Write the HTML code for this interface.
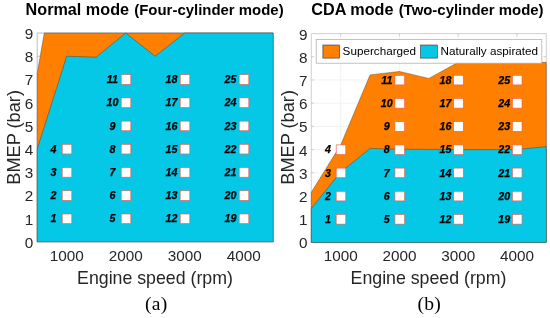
<!DOCTYPE html>
<html><head><meta charset="utf-8"><title>BMEP maps</title>
<style>
html,body{margin:0;padding:0;background:#fff;}
body{width:550px;height:318px;overflow:hidden;position:relative;font-family:"Liberation Sans",sans-serif;}
svg{position:absolute;left:0;top:0;display:block;}
text{font-family:"Liberation Sans",sans-serif;fill:#1a1a1a;}
.ttl{font-weight:bold;font-size:15.45px;fill:#000;}
.t1{font-size:16.2px;}
.t2{font-size:14.95px;}
.tick{font-size:15.3px;fill:#262626;}
.lab{font-size:17.75px;fill:#262626;}
.ylab{font-size:18.2px;fill:#262626;}
.num{font-weight:bold;font-style:italic;font-size:10.7px;fill:#000;stroke:#000;stroke-width:0.25px;}
.leg{font-size:11.7px;fill:#000;}
.cap{font-family:"Liberation Serif",serif;font-size:19.6px;letter-spacing:0.2px;fill:#000;}
</style></head><body>
<svg width="550" height="318" viewBox="0 0 550 318">
<rect width="550" height="318" fill="#fff"/>

<g>
<path d="M37.20 241.90V33.00H273.20M37.20 218.69h2.6M37.20 195.48h2.6M37.20 172.27h2.6M37.20 149.06h2.6M37.20 125.84h2.6M37.20 102.63h2.6M37.20 79.42h2.6M37.20 56.21h2.6" fill="none" stroke="#a0a0a0" stroke-width="0.7"/>
<polygon points="37.20,241.90 37.20,73.39 44.28,33.00 273.20,33.00 273.20,241.90" fill="#ff7f00" stroke="#222" stroke-width="0.5" stroke-opacity="0.7"/>
<polygon points="37.20,241.90 37.20,149.06 66.70,56.21 96.20,57.14 125.70,33.00 155.20,56.21 184.70,33.00 273.20,33.00 273.20,241.90" fill="#05c7e6" stroke="#222" stroke-width="0.5" stroke-opacity="0.7"/>
<rect x="62.20" y="213.99" width="9.6" height="9.6" fill="#fff" stroke="#ee5a4a" stroke-width="0.6"/>
<text class="num" text-anchor="middle" x="53.40" y="222.39">1</text>
<rect x="62.20" y="190.78" width="9.6" height="9.6" fill="#fff" stroke="#ee5a4a" stroke-width="0.6"/>
<text class="num" text-anchor="middle" x="53.40" y="199.18">2</text>
<rect x="62.20" y="167.57" width="9.6" height="9.6" fill="#fff" stroke="#ee5a4a" stroke-width="0.6"/>
<text class="num" text-anchor="middle" x="53.40" y="175.97">3</text>
<rect x="62.20" y="144.36" width="9.6" height="9.6" fill="#fff" stroke="#ee5a4a" stroke-width="0.6"/>
<text class="num" text-anchor="middle" x="53.40" y="152.76">4</text>
<rect x="121.20" y="213.99" width="9.6" height="9.6" fill="#fff" stroke="#ee5a4a" stroke-width="0.6"/>
<text class="num" text-anchor="middle" x="112.40" y="222.39">5</text>
<rect x="121.20" y="190.78" width="9.6" height="9.6" fill="#fff" stroke="#ee5a4a" stroke-width="0.6"/>
<text class="num" text-anchor="middle" x="112.40" y="199.18">6</text>
<rect x="121.20" y="167.57" width="9.6" height="9.6" fill="#fff" stroke="#ee5a4a" stroke-width="0.6"/>
<text class="num" text-anchor="middle" x="112.40" y="175.97">7</text>
<rect x="121.20" y="144.36" width="9.6" height="9.6" fill="#fff" stroke="#ee5a4a" stroke-width="0.6"/>
<text class="num" text-anchor="middle" x="112.40" y="152.76">8</text>
<rect x="121.20" y="121.14" width="9.6" height="9.6" fill="#fff" stroke="#ee5a4a" stroke-width="0.6"/>
<text class="num" text-anchor="middle" x="112.40" y="129.54">9</text>
<rect x="121.20" y="97.93" width="9.6" height="9.6" fill="#fff" stroke="#ee5a4a" stroke-width="0.6"/>
<text class="num" text-anchor="middle" x="112.40" y="106.33">10</text>
<rect x="121.20" y="74.72" width="9.6" height="9.6" fill="#fff" stroke="#ee5a4a" stroke-width="0.6"/>
<text class="num" text-anchor="middle" x="112.40" y="83.12">11</text>
<rect x="180.20" y="213.99" width="9.6" height="9.6" fill="#fff" stroke="#ee5a4a" stroke-width="0.6"/>
<text class="num" text-anchor="middle" x="171.40" y="222.39">12</text>
<rect x="180.20" y="190.78" width="9.6" height="9.6" fill="#fff" stroke="#ee5a4a" stroke-width="0.6"/>
<text class="num" text-anchor="middle" x="171.40" y="199.18">13</text>
<rect x="180.20" y="167.57" width="9.6" height="9.6" fill="#fff" stroke="#ee5a4a" stroke-width="0.6"/>
<text class="num" text-anchor="middle" x="171.40" y="175.97">14</text>
<rect x="180.20" y="144.36" width="9.6" height="9.6" fill="#fff" stroke="#ee5a4a" stroke-width="0.6"/>
<text class="num" text-anchor="middle" x="171.40" y="152.76">15</text>
<rect x="180.20" y="121.14" width="9.6" height="9.6" fill="#fff" stroke="#ee5a4a" stroke-width="0.6"/>
<text class="num" text-anchor="middle" x="171.40" y="129.54">16</text>
<rect x="180.20" y="97.93" width="9.6" height="9.6" fill="#fff" stroke="#ee5a4a" stroke-width="0.6"/>
<text class="num" text-anchor="middle" x="171.40" y="106.33">17</text>
<rect x="180.20" y="74.72" width="9.6" height="9.6" fill="#fff" stroke="#ee5a4a" stroke-width="0.6"/>
<text class="num" text-anchor="middle" x="171.40" y="83.12">18</text>
<rect x="239.20" y="213.99" width="9.6" height="9.6" fill="#fff" stroke="#ee5a4a" stroke-width="0.6"/>
<text class="num" text-anchor="middle" x="230.40" y="222.39">19</text>
<rect x="239.20" y="190.78" width="9.6" height="9.6" fill="#fff" stroke="#ee5a4a" stroke-width="0.6"/>
<text class="num" text-anchor="middle" x="230.40" y="199.18">20</text>
<rect x="239.20" y="167.57" width="9.6" height="9.6" fill="#fff" stroke="#ee5a4a" stroke-width="0.6"/>
<text class="num" text-anchor="middle" x="230.40" y="175.97">21</text>
<rect x="239.20" y="144.36" width="9.6" height="9.6" fill="#fff" stroke="#ee5a4a" stroke-width="0.6"/>
<text class="num" text-anchor="middle" x="230.40" y="152.76">22</text>
<rect x="239.20" y="121.14" width="9.6" height="9.6" fill="#fff" stroke="#ee5a4a" stroke-width="0.6"/>
<text class="num" text-anchor="middle" x="230.40" y="129.54">23</text>
<rect x="239.20" y="97.93" width="9.6" height="9.6" fill="#fff" stroke="#ee5a4a" stroke-width="0.6"/>
<text class="num" text-anchor="middle" x="230.40" y="106.33">24</text>
<rect x="239.20" y="74.72" width="9.6" height="9.6" fill="#fff" stroke="#ee5a4a" stroke-width="0.6"/>
<text class="num" text-anchor="middle" x="230.40" y="83.12">25</text>
<text class="tick" text-anchor="end" x="33.3" y="247.80">0</text>
<text class="tick" text-anchor="end" x="33.3" y="224.59">1</text>
<text class="tick" text-anchor="end" x="33.3" y="201.38">2</text>
<text class="tick" text-anchor="end" x="33.3" y="178.17">3</text>
<text class="tick" text-anchor="end" x="33.3" y="154.96">4</text>
<text class="tick" text-anchor="end" x="33.3" y="131.74">5</text>
<text class="tick" text-anchor="end" x="33.3" y="108.53">6</text>
<text class="tick" text-anchor="end" x="33.3" y="85.32">7</text>
<text class="tick" text-anchor="end" x="33.3" y="62.11">8</text>
<text class="tick" text-anchor="end" x="33.3" y="38.90">9</text>
<text class="tick" text-anchor="middle" x="66.70" y="260.9">1000</text>
<text class="tick" text-anchor="middle" x="125.70" y="260.9">2000</text>
<text class="tick" text-anchor="middle" x="184.70" y="260.9">3000</text>
<text class="tick" text-anchor="middle" x="243.70" y="260.9">4000</text>
<text class="ttl" x="25.6" y="15.2"><tspan class="t1">Normal mode</tspan><tspan class="t2" dx="5.2">(Four-cylinder mode)</tspan></text>
<text class="lab" text-anchor="middle" x="155" y="283.5">Engine speed (rpm)</text>
<text class="ylab" text-anchor="middle" transform="translate(19.5 137.4) rotate(-90)">BMEP (bar)</text>
<text class="cap" text-anchor="middle" x="156.3" y="310">(a)</text>
</g>
<g>
<path d="M340.68 242.40V33.60M399.42 242.40V33.60M458.17 242.40V33.60M516.92 242.40V33.60M311.30 219.20H546.30M311.30 196.00H546.30M311.30 172.80H546.30M311.30 149.60H546.30M311.30 126.40H546.30M311.30 103.20H546.30M311.30 80.00H546.30M311.30 56.80H546.30" fill="none" stroke="#e9e9e9" stroke-width="0.6"/>
<path d="M311.30 242.40V33.60H546.30V242.40M340.68 33.60v2.6M399.42 33.60v2.6M458.17 33.60v2.6M516.92 33.60v2.6M546.30 219.20h-2.6M311.30 219.20h2.6M546.30 196.00h-2.6M311.30 196.00h2.6M546.30 172.80h-2.6M311.30 172.80h2.6M546.30 149.60h-2.6M311.30 149.60h2.6M546.30 126.40h-2.6M311.30 126.40h2.6M546.30 103.20h-2.6M311.30 103.20h2.6M546.30 80.00h-2.6M311.30 80.00h2.6M546.30 56.80h-2.6M311.30 56.80h2.6" fill="none" stroke="#bdbdbd" stroke-width="0.7"/>
<polygon points="311.30,242.40 311.30,192.29 340.68,144.96 370.05,74.90 399.42,71.42 428.80,78.38 458.17,62.37 546.30,62.37 546.30,242.40" fill="#ff7f00" stroke="#222" stroke-width="0.5" stroke-opacity="0.7"/>
<polygon points="311.30,242.40 311.30,208.30 340.68,172.10 370.05,148.44 399.42,149.14 458.17,149.60 516.92,149.60 546.30,146.58 546.30,242.40" fill="#05c7e6" stroke="#222" stroke-width="0.5" stroke-opacity="0.7"/>
<rect x="336.18" y="214.50" width="9.6" height="9.6" fill="#fff" stroke="#ee5a4a" stroke-width="0.6"/>
<text class="num" text-anchor="middle" x="328.08" y="222.90">1</text>
<rect x="336.18" y="191.30" width="9.6" height="9.6" fill="#fff" stroke="#ee5a4a" stroke-width="0.6"/>
<text class="num" text-anchor="middle" x="328.08" y="199.70">2</text>
<rect x="336.18" y="168.10" width="9.6" height="9.6" fill="#fff" stroke="#ee5a4a" stroke-width="0.6"/>
<text class="num" text-anchor="middle" x="328.08" y="176.50">3</text>
<rect x="336.18" y="144.90" width="9.6" height="9.6" fill="#fff" stroke="#ee5a4a" stroke-width="0.6"/>
<text class="num" text-anchor="middle" x="328.08" y="153.30">4</text>
<rect x="394.92" y="214.50" width="9.6" height="9.6" fill="#fff" stroke="#ee5a4a" stroke-width="0.6"/>
<text class="num" text-anchor="middle" x="386.82" y="222.90">5</text>
<rect x="394.92" y="191.30" width="9.6" height="9.6" fill="#fff" stroke="#ee5a4a" stroke-width="0.6"/>
<text class="num" text-anchor="middle" x="386.82" y="199.70">6</text>
<rect x="394.92" y="168.10" width="9.6" height="9.6" fill="#fff" stroke="#ee5a4a" stroke-width="0.6"/>
<text class="num" text-anchor="middle" x="386.82" y="176.50">7</text>
<rect x="394.92" y="144.90" width="9.6" height="9.6" fill="#fff" stroke="#ee5a4a" stroke-width="0.6"/>
<text class="num" text-anchor="middle" x="386.82" y="153.30">8</text>
<rect x="394.92" y="121.70" width="9.6" height="9.6" fill="#fff" stroke="#ee5a4a" stroke-width="0.6"/>
<text class="num" text-anchor="middle" x="386.82" y="130.10">9</text>
<rect x="394.92" y="98.50" width="9.6" height="9.6" fill="#fff" stroke="#ee5a4a" stroke-width="0.6"/>
<text class="num" text-anchor="middle" x="386.82" y="106.90">10</text>
<rect x="394.92" y="75.30" width="9.6" height="9.6" fill="#fff" stroke="#ee5a4a" stroke-width="0.6"/>
<text class="num" text-anchor="middle" x="386.82" y="83.70">11</text>
<rect x="453.67" y="214.50" width="9.6" height="9.6" fill="#fff" stroke="#ee5a4a" stroke-width="0.6"/>
<text class="num" text-anchor="middle" x="445.57" y="222.90">12</text>
<rect x="453.67" y="191.30" width="9.6" height="9.6" fill="#fff" stroke="#ee5a4a" stroke-width="0.6"/>
<text class="num" text-anchor="middle" x="445.57" y="199.70">13</text>
<rect x="453.67" y="168.10" width="9.6" height="9.6" fill="#fff" stroke="#ee5a4a" stroke-width="0.6"/>
<text class="num" text-anchor="middle" x="445.57" y="176.50">14</text>
<rect x="453.67" y="144.90" width="9.6" height="9.6" fill="#fff" stroke="#ee5a4a" stroke-width="0.6"/>
<text class="num" text-anchor="middle" x="445.57" y="153.30">15</text>
<rect x="453.67" y="121.70" width="9.6" height="9.6" fill="#fff" stroke="#ee5a4a" stroke-width="0.6"/>
<text class="num" text-anchor="middle" x="445.57" y="130.10">16</text>
<rect x="453.67" y="98.50" width="9.6" height="9.6" fill="#fff" stroke="#ee5a4a" stroke-width="0.6"/>
<text class="num" text-anchor="middle" x="445.57" y="106.90">17</text>
<rect x="453.67" y="75.30" width="9.6" height="9.6" fill="#fff" stroke="#ee5a4a" stroke-width="0.6"/>
<text class="num" text-anchor="middle" x="445.57" y="83.70">18</text>
<rect x="512.42" y="214.50" width="9.6" height="9.6" fill="#fff" stroke="#ee5a4a" stroke-width="0.6"/>
<text class="num" text-anchor="middle" x="504.32" y="222.90">19</text>
<rect x="512.42" y="191.30" width="9.6" height="9.6" fill="#fff" stroke="#ee5a4a" stroke-width="0.6"/>
<text class="num" text-anchor="middle" x="504.32" y="199.70">20</text>
<rect x="512.42" y="168.10" width="9.6" height="9.6" fill="#fff" stroke="#ee5a4a" stroke-width="0.6"/>
<text class="num" text-anchor="middle" x="504.32" y="176.50">21</text>
<rect x="512.42" y="144.90" width="9.6" height="9.6" fill="#fff" stroke="#ee5a4a" stroke-width="0.6"/>
<text class="num" text-anchor="middle" x="504.32" y="153.30">22</text>
<rect x="512.42" y="121.70" width="9.6" height="9.6" fill="#fff" stroke="#ee5a4a" stroke-width="0.6"/>
<text class="num" text-anchor="middle" x="504.32" y="130.10">23</text>
<rect x="512.42" y="98.50" width="9.6" height="9.6" fill="#fff" stroke="#ee5a4a" stroke-width="0.6"/>
<text class="num" text-anchor="middle" x="504.32" y="106.90">24</text>
<rect x="512.42" y="75.30" width="9.6" height="9.6" fill="#fff" stroke="#ee5a4a" stroke-width="0.6"/>
<text class="num" text-anchor="middle" x="504.32" y="83.70">25</text>
<rect x="316.2" y="39.6" width="225.6" height="23.6" fill="#fff" stroke="#a8a8a8" stroke-width="0.7"/>
<rect x="322.9" y="45.0" width="16.7" height="13.1" fill="#ff7f00" stroke="#333" stroke-width="0.6"/>
<text class="leg" x="342.6" y="55.4">Supercharged</text>
<rect x="420.6" y="45.0" width="16.7" height="13.1" fill="#05c7e6" stroke="#333" stroke-width="0.6"/>
<text class="leg" x="440.6" y="55.4">Naturally aspirated</text>
<text class="tick" text-anchor="end" x="307.6" y="248.30">0</text>
<text class="tick" text-anchor="end" x="307.6" y="225.10">1</text>
<text class="tick" text-anchor="end" x="307.6" y="201.90">2</text>
<text class="tick" text-anchor="end" x="307.6" y="178.70">3</text>
<text class="tick" text-anchor="end" x="307.6" y="155.50">4</text>
<text class="tick" text-anchor="end" x="307.6" y="132.30">5</text>
<text class="tick" text-anchor="end" x="307.6" y="109.10">6</text>
<text class="tick" text-anchor="end" x="307.6" y="85.90">7</text>
<text class="tick" text-anchor="end" x="307.6" y="62.70">8</text>
<text class="tick" text-anchor="end" x="307.6" y="39.50">9</text>
<text class="tick" text-anchor="middle" x="340.68" y="261.4">1000</text>
<text class="tick" text-anchor="middle" x="399.42" y="261.4">2000</text>
<text class="tick" text-anchor="middle" x="458.17" y="261.4">3000</text>
<text class="tick" text-anchor="middle" x="516.92" y="261.4">4000</text>
<text class="ttl" x="311.3" y="15.2"><tspan class="t1">CDA mode</tspan><tspan class="t2" dx="5.2">(Two-cylinder mode)</tspan></text>
<text class="lab" text-anchor="middle" x="428.5" y="283.9">Engine speed (rpm)</text>
<text class="ylab" text-anchor="middle" transform="translate(293.9 137.4) rotate(-90)">BMEP (bar)</text>
<text class="cap" text-anchor="middle" x="429.2" y="310.3">(b)</text>
</g>
</svg></body></html>
